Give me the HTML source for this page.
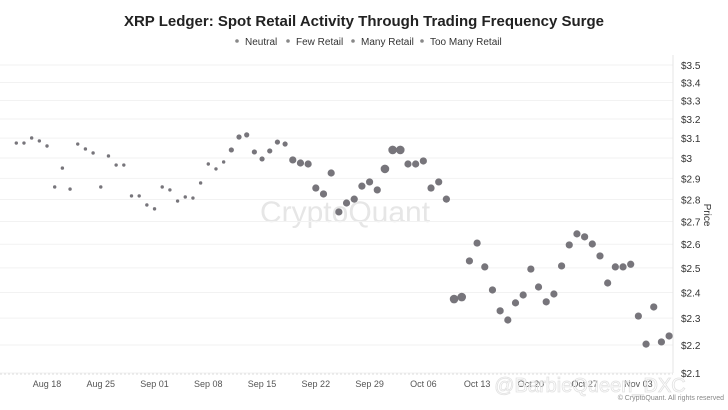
<!DOCTYPE html>
<html><head><meta charset="utf-8"><style>
html,body{margin:0;padding:0;background:#fff;width:728px;height:410px;overflow:hidden;font-family:"Liberation Sans",sans-serif;}
svg text{font-family:"Liberation Sans",sans-serif;}
</style></head><body>
<svg id="chart" width="728" height="410">
<text x="364" y="26" text-anchor="middle" font-size="15" font-weight="bold" fill="#222">XRP Ledger: Spot Retail Activity Through Trading Frequency Surge</text>
<g id="legend"></g>
<text x="345" y="222" text-anchor="middle" font-size="30" fill="#e6e6e6">CryptoQuant</text>
<g id="grid"></g><g id="axes"></g><g id="marks"></g>
<text transform="translate(704,215) rotate(90)" text-anchor="middle" font-size="10" fill="#333">Price</text>
<text x="590" y="392" text-anchor="middle" font-size="20" fill="none" stroke="#e2e2e2" stroke-width="0.8">@BarbieQueen_DXC</text>
<text x="724" y="400" text-anchor="end" font-size="7" fill="#888">© CryptoQuant. All rights reserved</text>
</svg>
<script>
const legendLabels=["Neutral","Few Retail","Many Retail","Too Many Retail"];
const yTicks=[2.1,2.2,2.3,2.4,2.5,2.6,2.7,2.8,2.9,3,3.1,3.2,3.3,3.4,3.5];
const xTickLabels=["Aug 18","Aug 25","Sep 01","Sep 08","Sep 15","Sep 22","Sep 29","Oct 06","Oct 13","Oct 20","Oct 27","Nov 03"];
const xTickDays=[4,11,18,25,32,39,46,53,60,67,74,81];
const prices=[3.075,3.075,3.101,3.086,3.060,2.859,2.950,2.849,3.070,3.045,3.025,2.859,3.010,2.965,2.965,2.817,2.817,2.775,2.757,2.859,2.845,2.793,2.812,2.807,2.878,
2.970,2.946,2.980,3.040,3.106,3.117,3.030,2.995,3.035,3.080,3.070,2.990,2.975,2.970,2.854,2.826,2.926,2.743,2.784,2.802,2.863,2.883,2.845,2.946,3.040,3.040,2.970,2.970,2.985,2.854,2.883,2.802,
2.374,2.382,2.529,2.605,2.504,2.410,2.328,2.293,2.359,2.390,2.495,2.422,2.363,2.394,2.508,2.597,2.645,2.632,2.601,2.550,2.438,2.504,2.504,2.515,2.308,2.203,2.343,2.211,2.233];
const categories=[0,0,0,0,0,0,0,0,0,0,0,0,0,0,0,0,0,0,0,0,0,0,0,0,0,
0,0,0,1,1,1,1,1,1,1,1,2,2,2,2,2,2,2,2,2,2,2,2,3,3,3,2,2,2,2,2,2,
3,3,2,2,2,2,2,2,2,2,2,2,2,2,2,2,2,2,2,2,2,2,2,2,2,2,2,2,2];
const NS="http://www.w3.org/2000/svg";
const plotTop=65,plotBot=373,pMax=3.5,pMin=2.1;
function yScale(p){return plotTop+(Math.log(pMax)-Math.log(p))/(Math.log(pMax)-Math.log(pMin))*(plotBot-plotTop);}
function xScale(d){return 16.3+d*7.68;}
const radii=[1.7,2.6,3.6,4.3];
function mk(t,a,p){const e=document.createElementNS(NS,t);for(const k in a)e.setAttribute(k,a[k]);p.appendChild(e);return e;}
const grid=document.getElementById('grid'),axes=document.getElementById('axes'),marks=document.getElementById('marks'),legend=document.getElementById('legend');
yTicks.forEach(t=>{const y=yScale(t);
const l=mk('line',{x1:0,x2:673,y1:y,y2:y,stroke:'#f2f2f2','stroke-width':1},grid);


const tx=mk('text',{x:681,y:y+4,'font-size':10,fill:'#333'},axes);tx.textContent='$'+t;

});
const vl=mk('line',{x1:673,x2:673,y1:55,y2:plotBot,stroke:'#e4e4e4'},axes);


const xl=mk('line',{x1:0,x2:673,y1:plotBot+1,y2:plotBot+1,stroke:'#ddd','stroke-dasharray':'2,2'},axes);


xTickLabels.forEach((s,i)=>{const x=xScale(xTickDays[i]);if(x>670)return;
const tx=mk('text',{x:x,y:387,'font-size':9,fill:'#555','text-anchor':'middle'},axes);tx.textContent=s;

});
prices.forEach((p,i)=>{const c=mk('circle',{cx:xScale(i),cy:yScale(p),r:radii[categories[i]],fill:'#77757b'},marks);

});
const lx=[240,291,356,425];
legendLabels.forEach((s,i)=>{const g=mk('g',{},legend);


mk('circle',{cx:lx[i]-3,cy:41,r:1.8,fill:'#888'},g);
const t=mk('text',{x:lx[i]+5,y:45,'font-size':10,fill:'#333'},g);t.textContent=s;});
</script>
</body></html>
